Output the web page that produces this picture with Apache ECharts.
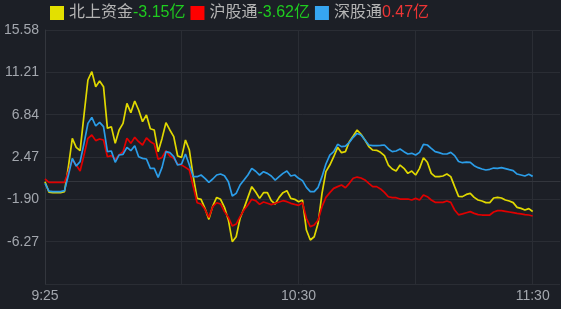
<!DOCTYPE html>
<html>
<head>
<meta charset="utf-8">
<script src="https://cdn.jsdelivr.net/npm/echarts@6/dist/echarts.min.js"></script>
<style>
html,body{margin:0;padding:0;background:#1c1f26;}
#c{width:561px;height:309px;}
</style>
</head>
<body>
<div id="c"></div>
<script>
// Time axis: one point per minute from 9:25, axis runs a few minutes past 11:30
const startHour = 9, startMin = 25, axisMinutes = 133;
const categories = [];
for (let i = 0; i < axisMinutes; i++) {
  const t = startHour * 60 + startMin + i;
  categories.push(Math.floor(t / 60) + ':' + String(t % 60).padStart(2, '0'));
}
const labelTimes = ['9:25', '10:30', '11:30'];
const gridTimes = ['10:00', '10:30', '11:00', '11:30'];

const seriesNames = ['北上资金', '沪股通', '深股通'];
const legendValues = ['-3.15亿', '-3.62亿', '0.47亿'];

// 北上资金 (yellow)
const northData = [
 -0.08,-1.15,-1.21,-1.21,-1.21,-1.11,1.47,4.40,3.47,3.12,
 6.81,10.42,11.28,9.73,10.31,9.73,5.43,5.60,3.88,5.26,
 5.94,8.01,7.05,8.25,7.32,6.12,6.81,5.38,5.26,3.02,
 4.39,6.01,5.26,4.57,2.57,2.43,4.22,3.19,0.44,-1.80,
 -1.90,-2.83,-3.97,-2.59,-1.70,-1.90,-2.73,-4.03,-6.27,-5.76,
 -3.86,-2.83,-1.70,-0.59,-1.15,-1.80,-1.21,-1.21,-2.04,-2.38,
 -1.70,-1.21,-1.01,-1.80,-1.90,-2.14,-1.97,-5.07,-6.10,-5.76,
 -4.38,-1.28,0.96,1.64,2.50,3.47,2.92,3.02,4.05,4.64,
 5.26,4.82,4.22,3.54,3.19,3.16,2.95,2.61,1.64,1.23,
 1.02,1.64,1.30,0.78,1.02,0.61,1.30,2.40,1.92,0.78,
 0.44,0.44,0.51,0.71,0.44,-0.59,-1.60,-1.62,-1.39,-1.28,
 -1.70,-1.97,-2.07,-2.24,-2.24,-1.76,-1.70,-1.76,-1.97,-2.07,
 -2.24,-2.73,-2.83,-3.00,-2.86,-3.15
];
// 沪股通 (red)
const shData = [
 0.20,-0.15,-0.15,-0.15,-0.15,-0.15,0.96,2.16,1.64,1.02,
 2.68,4.40,4.74,4.16,4.33,4.23,2.50,2.61,2.23,2.68,
 3.02,4.40,3.88,4.50,4.05,3.71,4.45,4.05,3.81,2.23,
 2.43,3.12,2.57,2.33,1.75,1.64,1.40,1.13,-0.59,-2.25,
 -2.38,-2.93,-3.76,-2.66,-2.25,-2.38,-3.17,-3.76,-4.65,-4.45,
 -3.69,-3.00,-2.49,-1.90,-2.04,-2.42,-2.18,-2.31,-2.45,-2.31,
 -2.18,-2.04,-2.14,-2.31,-2.42,-2.52,-2.25,-3.86,-4.72,-4.55,
 -4.03,-2.66,-1.70,-1.21,-0.77,-0.59,-0.42,-0.70,-0.25,0.27,
 0.40,0.30,0.10,-0.25,-0.59,-0.59,-0.83,-1.18,-1.63,-1.73,
 -1.73,-1.87,-1.87,-1.87,-1.97,-1.80,-1.97,-1.45,-1.63,-1.97,
 -2.21,-2.21,-2.21,-2.07,-2.21,-3.00,-3.50,-3.40,-3.28,-3.17,
 -3.35,-3.48,-3.52,-3.52,-3.52,-3.21,-3.07,-3.07,-3.14,-3.21,
 -3.28,-3.35,-3.41,-3.48,-3.52,-3.62
];
// 深股通 (blue)
const szData = [
 -0.25,-1.05,-1.10,-1.10,-1.10,-1.00,0.61,2.33,1.54,1.99,
 3.88,5.94,6.56,5.67,6.05,5.60,3.02,3.09,1.92,2.68,
 2.75,3.47,3.12,3.64,2.50,2.33,2.26,1.30,1.30,0.37,
 1.40,3.02,2.92,2.50,1.64,1.75,2.78,1.64,0.44,0.44,
 0.61,0.27,-0.15,0.20,0.61,0.71,0.54,-0.08,-1.56,-1.28,
 -0.42,0.09,0.61,1.30,1.00,0.61,0.95,0.78,0.51,0.09,
 0.44,0.78,1.02,0.51,0.61,0.27,0.03,-0.66,-1.11,-1.11,
 -0.66,0.44,1.75,2.67,3.02,3.78,3.54,3.60,3.98,4.50,
 4.90,4.74,4.22,3.71,3.64,3.64,3.67,3.71,3.30,3.02,
 3.09,3.30,3.02,2.78,2.85,2.67,2.95,3.78,3.71,3.36,
 3.02,2.92,2.78,2.78,2.95,2.61,2.00,1.88,1.94,1.92,
 1.57,1.37,1.23,1.13,1.20,1.33,1.30,1.37,1.27,1.16,
 1.06,0.71,0.61,0.51,0.68,0.47
];

const yMin = -10.64, yMax = 15.58, yInterval = 4.37;

const lineColors = ['#e0d800', '#e00000', '#2b9de8'];
const legendColors = ['#e3e000', '#ff0000', '#36a6f2'];
const valueStyles = ['g', 'g', 'r'];

const font = "'Liberation Sans', Arial, 'Noto Sans CJK SC', sans-serif";

const chart = echarts.init(document.getElementById('c'), null, {renderer: 'canvas'});
chart.setOption({
  backgroundColor: '#1c1f26',
  animation: false,
  legend: {
    left: 45, top: 0,
    itemWidth: 14, itemHeight: 14, itemGap: 5,
    icon: 'rect',
    selectedMode: false,
    data: seriesNames.map((n, i) => ({name: n, itemStyle: {color: legendColors[i]}})),
    formatter: name => {
      const i = seriesNames.indexOf(name);
      return '{n|' + name + '}{' + valueStyles[i] + '|' + legendValues[i] + '}';
    },
    textStyle: {
      fontSize: 16, fontFamily: font, color: '#b4b4b4',
      rich: {
        n: {fontSize: 16, fontFamily: font, color: '#b4b4b4'},
        g: {fontSize: 16, fontFamily: font, color: '#1fcc1f'},
        r: {fontSize: 16, fontFamily: font, color: '#ee3535'}
      }
    }
  },
  grid: {left: 45, right: 1, top: 30, bottom: 25, containLabel: false},
  xAxis: {
    type: 'category',
    data: categories,
    boundaryGap: false,
    axisLine: {show: true, lineStyle: {color: '#33363d', width: 1}},
    axisTick: {show: false},
    axisLabel: {
      color: '#a3a7ae', fontSize: 14, fontFamily: font, margin: 5,
      interval: (idx, val) => labelTimes.includes(val)
    },
    splitLine: {
      show: true,
      interval: (idx, val) => gridTimes.includes(val),
      lineStyle: {color: '#2a2d34', width: 1}
    }
  },
  yAxis: {
    type: 'value',
    min: yMin, max: yMax, interval: yInterval,
    axisLine: {show: true, lineStyle: {color: '#33363d', width: 1}},
    axisTick: {show: false},
    axisLabel: {
      color: '#a3a7ae', fontSize: 14, fontFamily: font, margin: 6,
      showMinLabel: false,
      formatter: v => v.toFixed(2)
    },
    splitLine: {show: true, lineStyle: {color: '#2a2d34', width: 1}}
  },
  series: [
    {name: seriesNames[0], type: 'line', data: northData, symbol: 'none',
     lineStyle: {color: lineColors[0], width: 1.7}, itemStyle: {color: lineColors[0]}},
    {name: seriesNames[1], type: 'line', data: shData, symbol: 'none',
     lineStyle: {color: lineColors[1], width: 1.7}, itemStyle: {color: lineColors[1]}},
    {name: seriesNames[2], type: 'line', data: szData, symbol: 'none',
     lineStyle: {color: lineColors[2], width: 1.7}, itemStyle: {color: lineColors[2]}}
  ]
});
</script>
</body>
</html>
